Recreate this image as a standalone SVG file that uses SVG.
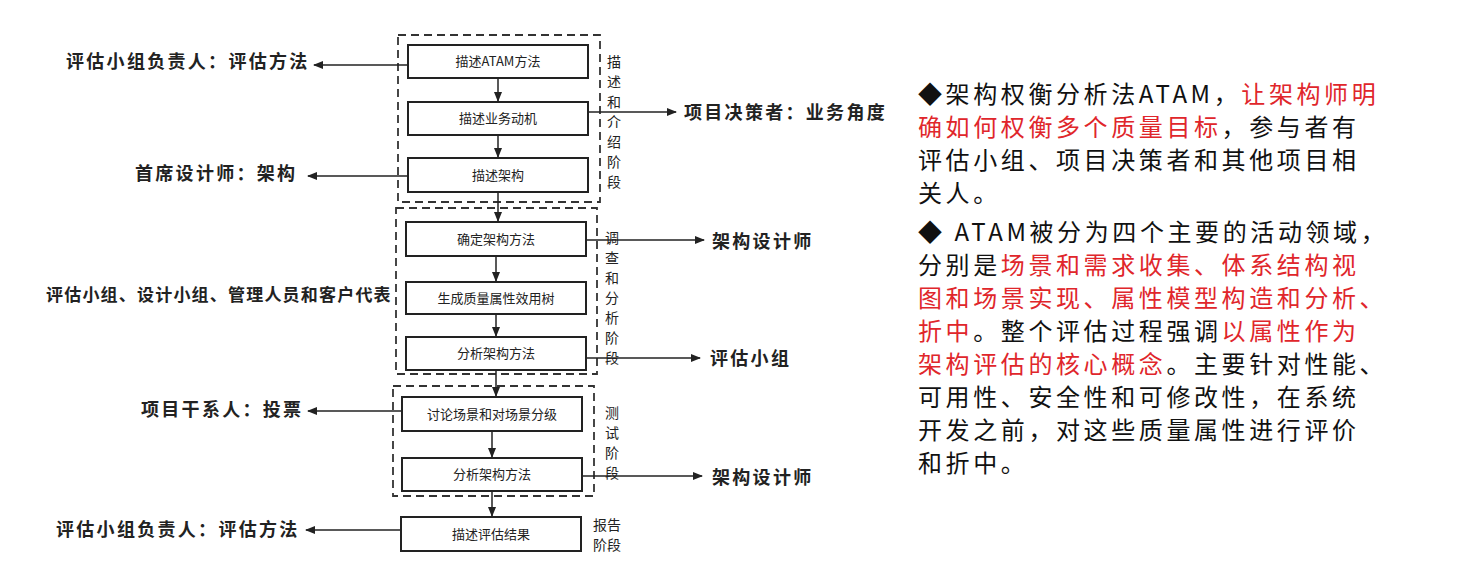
<svg xmlns="http://www.w3.org/2000/svg" width="1458" height="585" viewBox="0 0 1458 585">
<style>
.b{fill:#fff;stroke:#222;stroke-width:2}
.d{fill:none;stroke:#333;stroke-width:1.8;stroke-dasharray:8 5}
.bt{font-family:"Noto Sans CJK SC",sans-serif;font-size:13px;fill:#222;text-anchor:middle}
.l{font-family:"Noto Sans CJK SC",sans-serif;font-size:18px;font-weight:bold;fill:#222;letter-spacing:2.3px}
.p{font-family:"Noto Sans CJK SC",sans-serif;font-size:14px;fill:#222;text-anchor:middle}
.c{stroke:#222;stroke-width:1.5;fill:none}
.t{font-family:"Noto Sans CJK SC",sans-serif;font-size:24px;fill:#111;letter-spacing:3.6px}
.r{fill:#e0262b}
</style>
<defs><marker id="a" markerWidth="10" markerHeight="8" refX="9" refY="4" orient="auto" markerUnits="userSpaceOnUse"><path d="M0,0L10,4L0,8z" fill="#222"/></marker></defs>
<rect width="1458" height="585" fill="#fff"/>
<g id="phases">
<rect class="d" x="398" y="35" width="202" height="167"/>
<rect class="d" x="396" y="208" width="201" height="166"/>
<rect class="d" x="393" y="386" width="201" height="110"/>
</g>
<g id="connectors">
<path class="c" d="M498 78V101" marker-end="url(#a)"/>
<path class="c" d="M498 135V157" marker-end="url(#a)"/>
<path class="c" d="M498 192V221" marker-end="url(#a)"/>
<path class="c" d="M496 256V281" marker-end="url(#a)"/>
<path class="c" d="M496 314V336" marker-end="url(#a)"/>
<path class="c" d="M496 370V396" marker-end="url(#a)"/>
<path class="c" d="M492 431V457" marker-end="url(#a)"/>
<path class="c" d="M492 491V516" marker-end="url(#a)"/>
<path class="c" d="M408 65H314" marker-end="url(#a)"/>
<path class="c" d="M588 112H676" marker-end="url(#a)"/>
<path class="c" d="M408 176H308" marker-end="url(#a)"/>
<path class="c" d="M586 240H704" marker-end="url(#a)"/>
<path class="c" d="M586 358H700" marker-end="url(#a)"/>
<path class="c" d="M402 411H308" marker-end="url(#a)"/>
<path class="c" d="M582 476H702" marker-end="url(#a)"/>
<path class="c" d="M401 530H306" marker-end="url(#a)"/>
</g>
<g id="n1"><rect class="b" x="408" y="45" width="180" height="33"/><text class="bt" x="498" y="66">描述ATAM方法</text></g>
<g id="n2"><rect class="b" x="408" y="102" width="180" height="33"/><text class="bt" x="498" y="123">描述业务动机</text></g>
<g id="n3"><rect class="b" x="408" y="158" width="180" height="34"/><text class="bt" x="498" y="180">描述架构</text></g>
<g id="n4"><rect class="b" x="406" y="222" width="180" height="34"/><text class="bt" x="496" y="244">确定架构方法</text></g>
<g id="n5"><rect class="b" x="406" y="282" width="180" height="32"/><text class="bt" x="496" y="303">生成质量属性效用树</text></g>
<g id="n6"><rect class="b" x="406" y="337" width="180" height="33"/><text class="bt" x="496" y="358">分析架构方法</text></g>
<g id="n7"><rect class="b" x="402" y="397" width="180" height="34"/><text class="bt" x="492" y="419">讨论场景和对场景分级</text></g>
<g id="n8"><rect class="b" x="402" y="458" width="180" height="33"/><text class="bt" x="492" y="479">分析架构方法</text></g>
<g id="n9"><rect class="b" x="401" y="517" width="180" height="34"/><text class="bt" x="491" y="539">描述评估结果</text></g>
<g id="phaselabels">
<text class="p"><tspan x="614" y="67">描</tspan><tspan x="614" y="87">述</tspan><tspan x="614" y="107">和</tspan><tspan x="614" y="127">介</tspan><tspan x="614" y="147">绍</tspan><tspan x="614" y="167">阶</tspan><tspan x="614" y="187">段</tspan></text>
<text class="p"><tspan x="612" y="243">调</tspan><tspan x="612" y="263">查</tspan><tspan x="612" y="283">和</tspan><tspan x="612" y="303">分</tspan><tspan x="612" y="323">析</tspan><tspan x="612" y="343">阶</tspan><tspan x="612" y="363">段</tspan></text>
<text class="p"><tspan x="612" y="418">测</tspan><tspan x="612" y="438">试</tspan><tspan x="612" y="458">阶</tspan><tspan x="612" y="478">段</tspan></text>
<text class="p"><tspan x="607" y="530">报告</tspan><tspan x="607" y="550">阶段</tspan></text>
</g>
<g id="labels">
<text class="l" x="66" y="68">评估小组负责人：评估方法</text>
<text class="l" x="684" y="119">项目决策者：业务角度</text>
<text class="l" x="135" y="180">首席设计师：架构</text>
<text class="l" x="712" y="248">架构设计师</text>
<text class="l" x="46" y="301" style="font-size:17px;letter-spacing:1.2px">评估小组、设计小组、管理人员和客户代表</text>
<text class="l" x="710" y="365">评估小组</text>
<text class="l" x="141" y="416">项目干系人：投票</text>
<text class="l" x="712" y="484">架构设计师</text>
<text class="l" x="56" y="536">评估小组负责人：评估方法</text>
</g>
<g id="desc">
<text class="t" x="918" y="103">◆架构权衡分析法ATAM，<tspan class="r">让架构师明</tspan></text>
<text class="t" x="918" y="136"><tspan class="r">确如何权衡多个质量目标</tspan>，参与者有</text>
<text class="t" x="918" y="169">评估小组、项目决策者和其他项目相</text>
<text class="t" x="918" y="202">关人。</text>
<text class="t" x="918" y="241">◆ ATAM被分为四个主要的活动领域，</text>
<text class="t" x="918" y="274">分别是<tspan class="r">场景和需求收集、体系结构视</tspan></text>
<text class="t" x="918" y="307"><tspan class="r">图和场景实现、属性模型构造和分析、</tspan></text>
<text class="t" x="918" y="340"><tspan class="r">折中</tspan>。整个评估过程强调<tspan class="r">以属性作为</tspan></text>
<text class="t" x="918" y="373"><tspan class="r">架构评估的核心概念</tspan>。主要针对性能、</text>
<text class="t" x="918" y="406">可用性、安全性和可修改性，在系统</text>
<text class="t" x="918" y="439">开发之前，对这些质量属性进行评价</text>
<text class="t" x="918" y="472">和折中。</text>
</g>
</svg>
